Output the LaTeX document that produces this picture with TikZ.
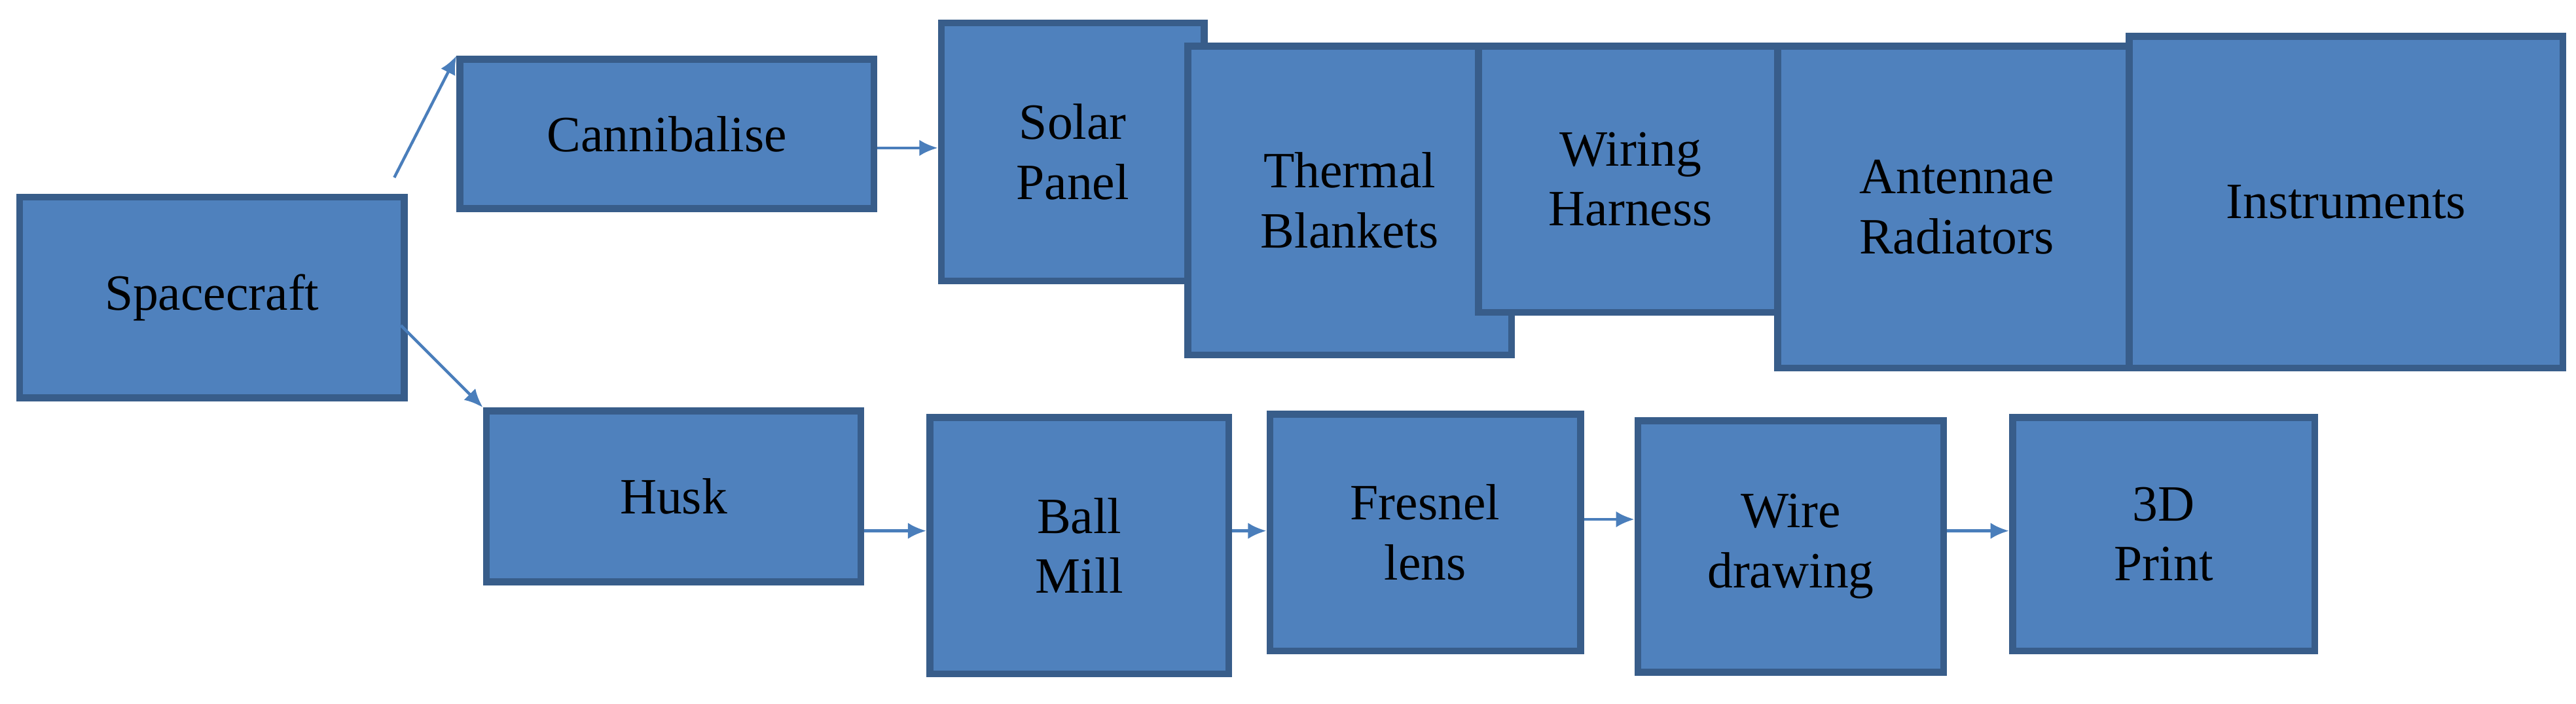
\documentclass[tikz,border=0pt]{standalone}
\usepackage{fontspec}
\setmainfont{Liberation Serif}
\usetikzlibrary{arrows.meta}
\begin{document}
\begin{tikzpicture}[x=0.1cm,y=-0.1cm,
  box/.style={draw=boxedge,fill=boxfill,line width=12pt,align=center,font=\fontsize{88}{104}\selectfont,inner sep=0pt},
  arr/.style={draw=arrcol,line width=5pt,-{Latex[length=32pt,width=28pt]}}]
\definecolor{boxfill}{HTML}{4F81BD}
\definecolor{boxedge}{HTML}{385D8A}
\definecolor{arrcol}{HTML}{4A7EBB}
\useasboundingbox (0,0) rectangle (1568,428);
\newcommand\bx[6]{\node[box,minimum width=#4*0.1cm-#2*0.1cm,minimum height=#5*0.1cm-#3*0.1cm] (#1) at ({(#2+#4)/2},{(#3+#5)/2}) {#6};}
\bx{sc}{12}{120}{246}{242}{Spacecraft}
\bx{can}{280}{36}{532}{127}{Cannibalise}
\bx{husk}{296}{250}{524}{354}{Husk}
\bx{sol}{573}{14}{733}{171}{Solar\\Panel}
\bx{th}{723}{28}{920}{216}{Thermal\\Blankets}
\bx{wh}{900}{28}{1085}{190}{Wiring\\Harness}
\bx{ant}{1082}{28}{1300}{224}{Antennae\\Radiators}
\bx{ins}{1296}{22}{1560}{224}{Instruments}
\bx{bm}{566}{254}{748}{410}{Ball\\Mill}
\bx{fl}{773}{252}{962}{396}{Fresnel\\lens}
\bx{wd}{997}{256}{1183}{409}{Wire\\drawing}
\bx{pr}{1225}{254}{1409}{396}{3D\\Print}
\coordinate (a1) at (240,108);
\coordinate (a2) at (244,198);
\draw[arr] (a1) -- (can.north west);
\draw[arr] (a2) -- (husk.north west);
\draw[arr] (can.east |- 0,90) -- (sol.west |- 0,90);
\draw[arr] (husk.east |- 0,323) -- (bm.west |- 0,323);
\draw[arr] (bm.east |- 0,323) -- (fl.west |- 0,323);
\draw[arr] (fl.east |- 0,316) -- (wd.west |- 0,316);
\draw[arr] (wd.east |- 0,323) -- (pr.west |- 0,323);
\end{tikzpicture}
\end{document}
